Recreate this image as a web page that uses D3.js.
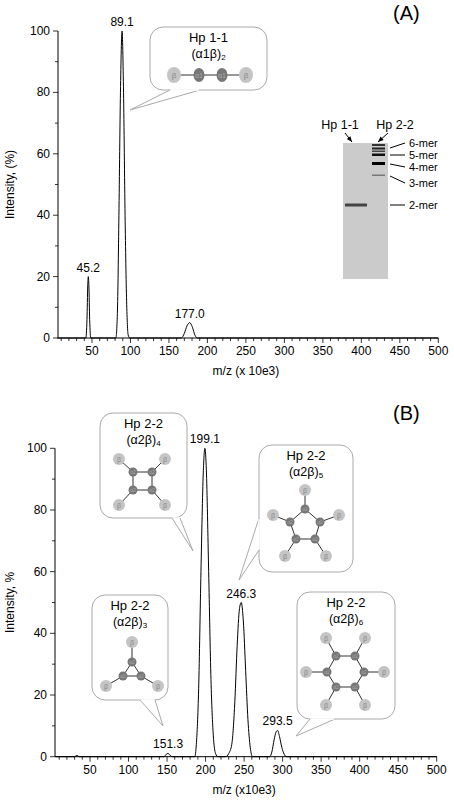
<!DOCTYPE html><html><head><meta charset="utf-8">
<script src="https://cdn.jsdelivr.net/npm/d3@7"></script>
<style>body{margin:0;background:#fff}text{font-family:"Liberation Sans",Arial,sans-serif}</style></head><body>
<svg id="c" width="454" height="800"></svg>
<script>
// ---- data ----
const xTicks=[50,100,150,200,250,300,350,400,450,500];
const yTicks=[0,20,40,60,80,100];
const specA=[[5,0],[42,0],[43.5,6],[44.5,17],[45.2,20],[46,17],[47,6],[48.5,0],[81,0],[83,8],[85,40],[87,80],[89.1,100],[91,80],[93,40],[95,12],[97,1],[99,0],[166,0],[170,1.5],[173.5,4],[177,5],[180.5,3.5],[184,0.8],[187,0],[500,0]];
const specB=[[5,0],[30,0],[33,0.4],[36,0],[100,0],[146,0],[149,0.8],[151.3,1.1],[154,0.4],[157,0],[186,0],[188,4],[191,22],[194,60],[197,92],[199.1,100],[201,93],[204,60],[207,25],[210,7],[213,1],[216,0],[226,0],[230,1],[234,4],[238,18],[241,36],[244,48],[246.3,50],[249,44],[252,28],[255,12],[258,3],[261,0],[283,0],[286,1.5],[289,5.5],[291.5,8],[293.5,8.5],[296,6.5],[299,3],[302,0.8],[305,0],[500,0]];
const labelsA=[[45.2,20,"45.2"],[89.1,100,"89.1"],[177,5,"177.0"]];
const labelsB=[[151.3,1.1,"151.3"],[199.1,100,"199.1"],[246.3,50,"246.3"],[293.5,8.5,"293.5"]];
const merLabels=["6-mer","5-mer","4-mer","3-mer","2-mer"];
const svg=d3.select("#c");
function panel(o){
 const x=d3.scaleLinear().domain([0,500]).range([o.x0,o.x1]);
 const y=d3.scaleLinear().domain([0,100]).range([o.yb,o.yt]);
 const g=svg.append("g");
 g.append("line").attr("x1",o.xl).attr("x2",o.x1).attr("y1",o.yb).attr("y2",o.yb).attr("stroke","#000");
 g.append("line").attr("x1",o.xl).attr("x2",o.xl).attr("y1",o.yb).attr("y2",o.yt).attr("stroke","#000");
 d3.range(10,501,10).forEach(v=>{const mj=v%50==0;g.append("line").attr("x1",x(v)).attr("x2",x(v)).attr("y1",o.yb).attr("y2",o.yb+(mj?5:3)).attr("stroke","#000").attr("stroke-width",0.8);});
 xTicks.forEach(v=>g.append("text").attr("x",x(v)).attr("y",o.yb+17).attr("text-anchor","middle").attr("font-size",12).text(v));
 d3.range(0,101,10).forEach(v=>g.append("line").attr("x1",o.xl).attr("x2",o.xl-(v%20==0?5:3)).attr("y1",y(v)).attr("y2",y(v)).attr("stroke","#000").attr("stroke-width",0.8));
 yTicks.forEach(v=>g.append("text").attr("x",o.xl-8).attr("y",y(v)+4).attr("text-anchor","end").attr("font-size",12).text(v));
 g.append("text").attr("transform",`translate(14,${(o.yb+o.yt)/2}) rotate(-90)`).attr("text-anchor","middle").attr("font-size",12).text(o.ylab);
 g.append("text").attr("x",(o.x0+o.x1)/2).attr("y",o.yb+37).attr("text-anchor","middle").attr("font-size",12).text(o.xlab);
 g.append("path").datum(o.data).attr("fill","none").attr("stroke","#000").attr("stroke-width",1)
  .attr("d",d3.line().x(d=>x(d[0])).y(d=>y(d[1])).curve(d3.curveMonotoneX));
 o.labels.forEach(l=>g.append("text").attr("x",x(l[0])).attr("y",y(l[1])-5).attr("text-anchor","middle").attr("font-size",12).text(l[2]));
 g.append("text").attr("x",o.tagx).attr("y",o.tagy).attr("font-size",20).text(o.tag);
}
panel({x0:53.5,x1:438.3,xl:58,yb:338,yt:31,data:specA,labels:labelsA,ylab:"Intensity, (%)",xlab:"m/z (x 10e3)",tag:"(A)",tagx:393,tagy:20});
panel({x0:51.5,x1:436.7,xl:55,yb:756.7,yt:448.3,data:specB,labels:labelsB,ylab:"Intensity, %",xlab:"m/z (x10e3)",tag:"(B)",tagx:393,tagy:420});

// tip: [tipx,tipy,ax,ay,bx,by] – base points on the bubble edge
function bubble(x,y,w,h,t1,t2,tip){
 const g=svg.append("g");
 g.append("rect").attr("x",x).attr("y",y).attr("width",w).attr("height",h).attr("rx",13).attr("fill","#fff").attr("stroke","#aaa");
 g.append("path").attr("d",`M${tip[2]},${tip[3]}L${tip[0]},${tip[1]}L${tip[4]},${tip[5]}`).attr("fill","#fff").attr("stroke","#aaa");
 const vert=tip[2]===tip[4];
 g.append("line").attr("x1",tip[2]+(vert?0:0.7)).attr("x2",tip[4]-(vert?0:0.7)).attr("y1",tip[3]+(vert?0.7:0)).attr("y2",tip[5]-(vert?0.7:0)).attr("stroke","#fff").attr("stroke-width",1.5);
 g.append("text").attr("x",x+w/2).attr("y",y+15).attr("text-anchor","middle").attr("font-size",13).text(t1);
 const s=g.append("text").attr("x",x+w/2).attr("y",y+31).attr("text-anchor","middle").attr("font-size",12.5);
 s.append("tspan").text(t2[0]);s.append("tspan").attr("font-size",8).attr("dy",2).text(t2[1]);
 return g;
}
function mol(alphas,betas,edges,al){
 const g=svg.append("g");
 edges.forEach(e=>{const a=e[0],b=e[1];g.append("line").attr("x1",a[0]).attr("y1",a[1]).attr("x2",b[0]).attr("y2",b[1]).attr("stroke","#333").attr("stroke-width",1);});
 betas.forEach(p=>{g.append("circle").attr("cx",p[0]).attr("cy",p[1]).attr("r",6).attr("fill","#c4c4c4");g.append("text").attr("x",p[0]).attr("y",p[1]+2.5).attr("text-anchor","middle").attr("font-size",7).attr("fill","#888").text("β");});
 alphas.forEach(p=>{g.append("circle").attr("cx",p[0]).attr("cy",p[1]).attr("r",4.5).attr("fill","#777");g.append("text").attr("x",p[0]).attr("y",p[1]+2).attr("text-anchor","middle").attr("font-size",5).attr("fill","#aaa").text(al);});
}
function ring(al,be){const e=[];al.forEach((a,i)=>{e.push([a,al[(i+1)%al.length]]);e.push([a,be[i]]);});return e;}
// A bubble
bubble(150,27,117,63,"Hp 1-1",["(α1β)","2"],[130,110,170,90,200,90]);
(function(){const g=svg.append("g");
 g.append("line").attr("x1",174).attr("x2",246).attr("y1",75).attr("y2",75).attr("stroke","#333");
 [[174,"β"],[246,"β"]].forEach(p=>{g.append("ellipse").attr("cx",p[0]).attr("cy",75).attr("rx",7).attr("ry",8).attr("fill","#c4c4c4");g.append("text").attr("x",p[0]).attr("y",78).attr("text-anchor","middle").attr("font-size",8).attr("fill","#888").text(p[1]);});
 [199,222].forEach(cx=>{g.append("ellipse").attr("cx",cx).attr("cy",75).attr("rx",5.5).attr("ry",7).attr("fill","#777");g.append("text").attr("x",cx).attr("y",78).attr("text-anchor","middle").attr("font-size",7).attr("fill","#aaa").text("α1");});
})();
// gel inset
(function(){const g=svg.append("g");
 g.append("rect").attr("x",343).attr("y",143).attr("width",45).attr("height",136).attr("fill","#cbcbcb");
 g.append("rect").attr("x",345).attr("y",203.5).attr("width",22).attr("height",3).attr("fill","#444");
 [[144,2,"#333"],[147.5,2,"#222"],[150.5,1.5,"#444"],[153.5,2.5,"#111"],[162,3,"#000"],[174.5,1.5,"#777"]].forEach(b=>g.append("rect").attr("x",372).attr("y",b[0]).attr("width",13).attr("height",b[1]).attr("fill",b[2]));
 g.append("text").attr("x",340).attr("y",129).attr("text-anchor","middle").attr("font-size",12.5).text("Hp 1-1");
 g.append("text").attr("x",395).attr("y",129).attr("text-anchor","middle").attr("font-size",12.5).text("Hp 2-2");
 [[345,133,352,142],[388,133,378,142]].forEach(a=>{g.append("line").attr("x1",a[0]).attr("y1",a[1]).attr("x2",a[2]).attr("y2",a[3]).attr("stroke","#000");
   const ang=Math.atan2(a[3]-a[1],a[2]-a[0]);g.append("path").attr("d",`M${a[2]},${a[3]}l${-6*Math.cos(ang-0.4)},${-6*Math.sin(ang-0.4)}l${6*Math.cos(ang-0.4)-6*Math.cos(ang+0.4)},${6*Math.sin(ang-0.4)-6*Math.sin(ang+0.4)}z`).attr("fill","#000");});
 const ty=[143,155,167,183,205], ly=[148,155,164,176,205];
 merLabels.forEach((m,i)=>{
  g.append("line").attr("x1",390).attr("x2",405).attr("y1",ly[i]).attr("y2",ty[i]).attr("stroke","#000");
  g.append("text").attr("x",409).attr("y",ty[i]+4).attr("font-size",11).text(m);});
})();
// B bubbles
bubble(100,413,87,105,"Hp 2-2",["(α2β)","4"],[193,551,172,518,180,518]);
bubble(259,445,94,127,"Hp 2-2",["(α2β)","5"],[239,580,259,518,259,550]);
bubble(92,595,76,105,"Hp 2-2",["(α2β)","3"],[163,726,140,700,155,700]);
bubble(297,592,98,127,"Hp 2-2",["(α2β)","6"],[296,736,310,719,335,719]);
const M=[
 [[[133,472],[152,472],[152,490],[133,490]],[[119,459],[165,459],[165,505],[119,505]]],
 [[[305,509],[320,522],[315,539],[296,539],[290,522]],[[305,490],[339,515],[326,556],[285,556],[273,515]]],
 [[[132,662],[141,676],[123,676]],[[132,642],[158,686],[106,686]]],
 [[[336,656],[355,656],[364,672],[355,687],[336,687],[327,672]],[[326,638],[365,638],[384,672],[365,705],[326,705],[306,672]]]
];
M.forEach(m=>mol(m[0],m[1],ring(m[0],m[1]),"α2"));
</script></body></html>
